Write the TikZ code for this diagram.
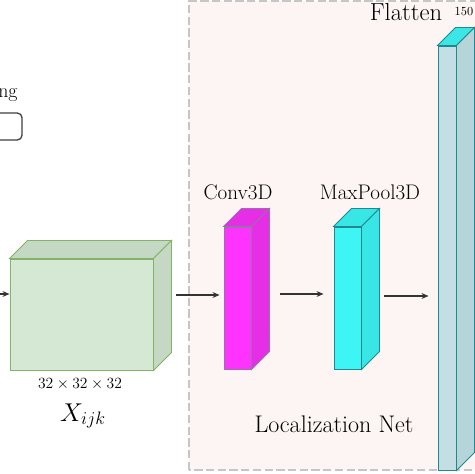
\RequirePackage{fix-cm}
\documentclass[tikz,border=0pt]{standalone}
\usepackage{fontspec}
\usepackage{tikz}
\usetikzlibrary{calc, arrows.meta, positioning}

\definecolor{netbg}{HTML}{FCF5F3}
\definecolor{netdash}{HTML}{C6C6C6}
\definecolor{inputfront}{HTML}{D5E8D4}
\definecolor{inputdeep}{HTML}{C5D8C3}
\definecolor{inputline}{HTML}{82B366}
\definecolor{convfront}{HTML}{FF33FF}
\definecolor{convdeep}{HTML}{E62EE6}
\definecolor{convline}{HTML}{9673A6}
\definecolor{poolfront}{HTML}{3DF5F5}
\definecolor{pooldeep}{HTML}{38E6E6}
\definecolor{poolline}{HTML}{1E8A90}
\definecolor{flatfront}{HTML}{C4DFE3}
\definecolor{flatside}{HTML}{B6D5D8}
\definecolor{flattop}{HTML}{3DE6E6}
\definecolor{arrowgray}{HTML}{333333}

% top and right faces of a block: node, line, top fill, side fill
\newcommand{\blockdepth}[4]{
    \filldraw[draw=#2, line width=0.8pt, fill=#3] (#1.north west) -- ++(18,18) -- ($(#1.north east)+(18,18)$) -- (#1.north east) -- cycle;
    \filldraw[draw=#2, line width=0.8pt, fill=#4] (#1.north east) -- ++(18,18) -- ($(#1.south east)+(18,18)$) -- (#1.south east) -- cycle;
}

\begin{document}
\begin{tikzpicture}[
        x=0.03cm, y=0.03cm,
        face/.style={rectangle, draw, line width=0.8pt, inner sep=0pt},
        title/.style={font=\fontsize{18}{20}\selectfont, anchor=base},
        arrow/.style={-{Stealth[length=6pt, width=5pt]}, draw=arrowgray, line width=0.9pt}
    ]
        \useasboundingbox (0,0) rectangle (474,474);

        % localization net frame
        \draw[draw=netdash, fill=netbg, line width=1.7pt, dash pattern=on 7pt off 3pt] (189,4) rectangle (500,473);

        % left part
        \node[anchor=base east, font=\fontsize{17}{19}\selectfont, inner sep=1pt] (stage) at (19,376) {ng};
        \node[rectangle, draw=black!75, fill=white, line width=1.1pt, rounded corners=4pt, minimum width=2.46cm, minimum height=0.81cm] (stagebox) at (-19,347.5) {};

        % input volume
        \node[face, draw=inputline, fill=inputfront, minimum width=4.29cm, minimum height=3.33cm] (cube) at (81.5,159.5) {};
        \blockdepth{cube}{inputline}{inputdeep}{inputdeep}
        \node[anchor=base, font=\fontsize{13.3}{15}\selectfont] (size) at (80,85) {$32 \times 32 \times 32$};
        \node[anchor=base, font=\fontsize{22}{24}\selectfont] (xin) at (83,53) {$X_{ijk}$};

        % layers
        \node[face, draw=convline, fill=convfront, minimum width=0.81cm, minimum height=4.26cm] (conv) at (237.5,176) {};
        \blockdepth{conv}{convline}{convdeep}{convdeep}
        \node[face, draw=poolline, fill=poolfront, minimum width=0.81cm, minimum height=4.26cm] (pool) at (347.5,176) {};
        \blockdepth{pool}{poolline}{pooldeep}{pooldeep}
        \node[face, draw=poolline, fill=flatfront, minimum width=0.54cm, minimum height=12.72cm] (flat) at (447,216) {};
        \blockdepth{flat}{poolline}{flattop}{flatside}

        \node[title] (convlabel) at (238,274) {Conv3D};
        \node[title] (poollabel) at (370,274) {MaxPool3D};
        \node[title, font=\fontsize{21}{23}\selectfont] (flatlabel) at (406,453) {Flatten};
        \node[anchor=base east, font=\fontsize{10.5}{12}\selectfont, inner sep=0.5pt] (flatsize) at (474,458) {150};
        \node[title, font=\fontsize{20.5}{23}\selectfont] (netlabel) at (334,42) {Localization Net};

        % connectors
        \coordinate (feed) at (-20,180);
        \draw[arrow] (feed) -- (feed -| cube.west);
        \draw[arrow] ($(cube.east)+(23,19.5)$) -- ($(conv.west)+(-4,3)$);
        \draw[arrow] ($(conv.east)+(29,4)$) -- ($(pool.west)+(-10,4)$);
        \draw[arrow] ($(pool.east)+(23,2)$) -- ($(flat.west)+(-9,-38)$);
    \end{tikzpicture}
\end{document}
